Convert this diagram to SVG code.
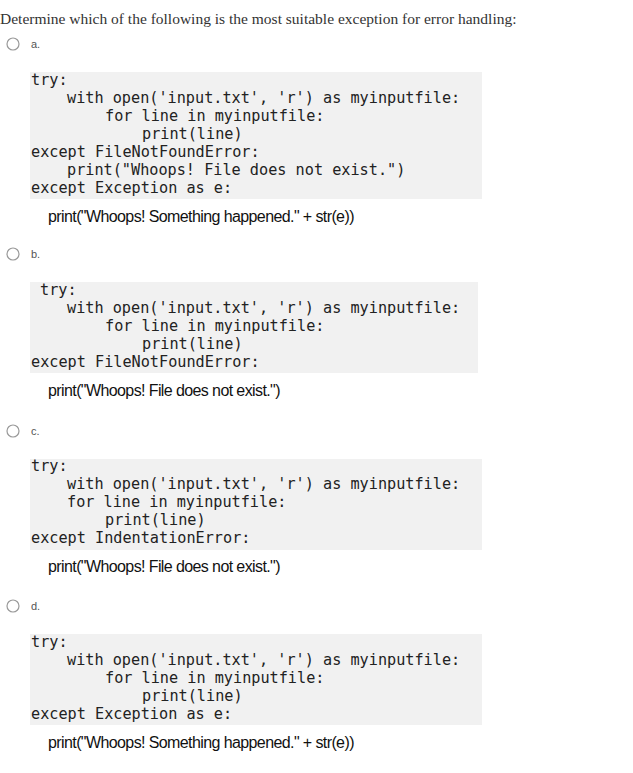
<svg xmlns="http://www.w3.org/2000/svg" width="633" height="773" viewBox="0 0 633 773">
<style>
.q{font-family:"Liberation Serif",serif;font-size:15.5px;fill:#333}
.l{font-family:"Liberation Sans",sans-serif;font-size:11px;fill:#555}
.c{font-family:"DejaVu Sans Mono",monospace;font-size:15.2px;fill:#222;white-space:pre}
.p{font-family:"Liberation Sans",sans-serif;font-size:16px;fill:#111;letter-spacing:-0.6px}
.r{fill:#fff;stroke:#999;stroke-width:1.2}
.b{fill:#f1f1f1}
</style>
<rect width="633" height="773" fill="#fff"/>
<text class="q" x="0" y="24">Determine which of the following is the most suitable exception for error handling:</text>
<g id="a">
<circle class="r" cx="13" cy="44" r="6"/><text class="l" x="31" y="48">a.</text>
<rect class="b" x="30" y="72" width="452" height="127"/>
<text class="c" x="31" y="85">try:</text>
<text class="c" x="67" y="103">with open('input.txt', 'r') as myinputfile:</text>
<text class="c" x="105" y="121">for line in myinputfile:</text>
<text class="c" x="142" y="139">print(line)</text>
<text class="c" x="31" y="157">except FileNotFoundError:</text>
<text class="c" x="67" y="175">print("Whoops! File does not exist.")</text>
<text class="c" x="31" y="193">except Exception as e:</text>
<text class="p" x="48" y="222">print("Whoops! Something happened." + str(e))</text>
</g>
<g id="b">
<circle class="r" cx="13" cy="254" r="6"/><text class="l" x="31" y="258">b.</text>
<rect class="b" x="30" y="282" width="448" height="91"/>
<text class="c" x="40" y="295">try:</text>
<text class="c" x="67" y="313">with open('input.txt', 'r') as myinputfile:</text>
<text class="c" x="105" y="331">for line in myinputfile:</text>
<text class="c" x="142" y="349">print(line)</text>
<text class="c" x="31" y="367">except FileNotFoundError:</text>
<text class="p" x="48" y="396">print("Whoops! File does not exist.")</text>
</g>
<g id="c">
<circle class="r" cx="13" cy="431" r="6"/><text class="l" x="31" y="435">c.</text>
<rect class="b" x="30" y="459" width="452" height="91"/>
<text class="c" x="31" y="471">try:</text>
<text class="c" x="67" y="489">with open('input.txt', 'r') as myinputfile:</text>
<text class="c" x="67" y="507">for line in myinputfile:</text>
<text class="c" x="105" y="525">print(line)</text>
<text class="c" x="31" y="543">except IndentationError:</text>
<text class="p" x="48" y="572">print("Whoops! File does not exist.")</text>
</g>
<g id="d">
<circle class="r" cx="13" cy="606" r="6"/><text class="l" x="31" y="610">d.</text>
<rect class="b" x="30" y="634" width="452" height="91"/>
<text class="c" x="31" y="647">try:</text>
<text class="c" x="67" y="665">with open('input.txt', 'r') as myinputfile:</text>
<text class="c" x="105" y="683">for line in myinputfile:</text>
<text class="c" x="142" y="701">print(line)</text>
<text class="c" x="31" y="719">except Exception as e:</text>
<text class="p" x="48" y="748">print("Whoops! Something happened." + str(e))</text>
</g>
</svg>
